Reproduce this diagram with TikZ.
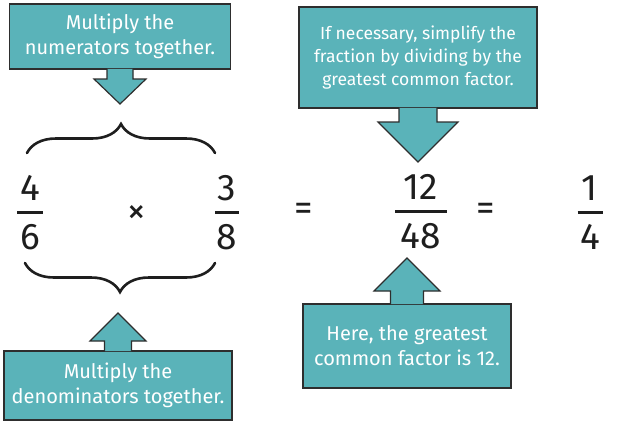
\documentclass[tikz,border=0pt]{standalone}
\usepackage{fontspec}
\setmainfont{Fira Sans}
\usepackage{tikz}
\usetikzlibrary{calc}
\usetikzlibrary{decorations.pathreplacing}

\definecolor{boxteal}{HTML}{5AB3B9}
\definecolor{boxedge}{HTML}{2E2E2E}
\definecolor{ink}{HTML}{1E1E1E}

% numerator, denominator, width of the bar
\newcommand{\frc}[3]{\vbox{\offinterlineskip\halign{\hfil##\hfil\cr #1\cr\noalign{\kern 10.5pt}\rule{#3}{3pt}\cr\noalign{\kern 10.5pt}#2\cr}}}

\begin{document}
\begin{tikzpicture}[x=1pt, y=-1pt,
    note/.style={draw=boxedge, fill=boxteal, line width=1.2pt, text=white, align=center, inner sep=0pt, font=\fontsize{20}{25}\selectfont},
    pointer/.style={draw=boxedge, fill=boxteal, line width=1.2pt},
    bracket/.style={decorate, decoration={brace, amplitude=29pt}, draw=ink, line width=2.6pt, line cap=round},
    num/.style={text=ink, inner sep=0pt, font=\fontsize{37}{37}\selectfont}]
    \useasboundingbox (0,0) rectangle (630,426);

    % the sum
    \node[num] (first)   at (30,212.5)  {\frc{4}{6}{26pt}};
    \node[num] (times)   at (137,215)   {×};
    \node[num] (second)  at (227,212.5) {\frc{3}{8}{24pt}};
    \node[num] (eqA)     at (304,212)   {=};
    \node[num] (product) at (421,211.5) {\frc{12}{48}{52pt}};
    \node[num] (eqB)     at (486,212)   {=};
    \node[num] (answer)  at (590,212.5) {\frc{1}{4}{25pt}};

    \draw[bracket] (27,153) -- (215,153);
    \draw[bracket] (215,263) -- (25,263);

    % hint boxes
    \node[note, minimum width=221pt, minimum height=65pt]  (numbox)  at (120,36.5)  {Multiply the\\numerators together.};
    \node[note, minimum width=228pt, minimum height=69pt]  (denbox)  at (118,385.5) {Multiply the\\denominators together.};
    \node[note, minimum width=238pt, minimum height=101pt, font=\fontsize{17.5}{23}\selectfont] (gcfbox) at (418,57.5) {If necessary, simplify the\\fraction by dividing by the\\greatest common factor.};
    \node[note, minimum width=208pt, minimum height=84pt]  (herebox) at (407,346)   {Here, the greatest\\common factor is 12.};

    % where the pointers end
    \coordinate (numtip)  at (120,104);
    \coordinate (dentip)  at (118,313);
    \coordinate (gcftip)  at (418,162);
    \coordinate (heretip) at (407,258);

    \filldraw[pointer] ($(numbox.south)+(-13,-0.7)$) -- ($(numtip)+(-13,-25)$) -- ($(numtip)+(-26,-25)$) -- (numtip)
        -- ($(numtip)+(26,-25)$) -- ($(numtip)+(13,-25)$) -- ($(numbox.south)+(13,-0.7)$);
    \filldraw[pointer] ($(denbox.north)+(-13.5,0.7)$) -- ($(dentip)+(-13.5,28)$) -- ($(dentip)+(-28,28)$) -- (dentip)
        -- ($(dentip)+(28,28)$) -- ($(dentip)+(13.5,28)$) -- ($(denbox.north)+(13.5,0.7)$);
    \filldraw[pointer] ($(gcfbox.south)+(-19,-0.7)$) -- ($(gcftip)+(-19,-40)$) -- ($(gcftip)+(-40,-40)$) -- (gcftip)
        -- ($(gcftip)+(40,-40)$) -- ($(gcftip)+(19,-40)$) -- ($(gcfbox.south)+(19,-0.7)$);
    \filldraw[pointer] ($(herebox.north)+(-16.5,0.7)$) -- ($(heretip)+(-16.5,33)$) -- ($(heretip)+(-33,33)$) -- (heretip)
        -- ($(heretip)+(33,33)$) -- ($(heretip)+(16.5,33)$) -- ($(herebox.north)+(16.5,0.7)$);
\end{tikzpicture}
\end{document}
